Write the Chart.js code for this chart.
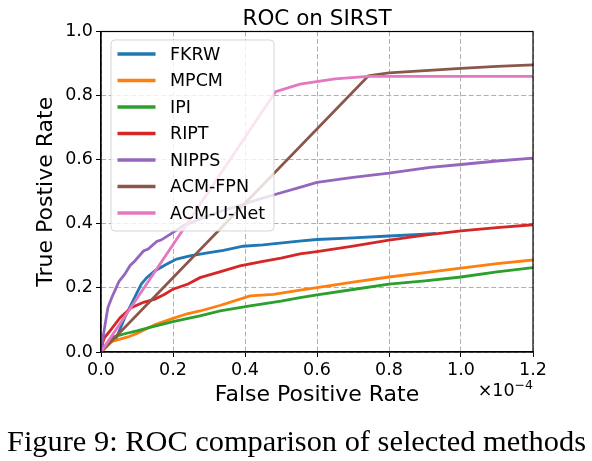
<!DOCTYPE html>
<html>
<head>
<meta charset="utf-8">
<script src="https://cdn.jsdelivr.net/npm/chart.js@4/dist/chart.umd.min.js"></script>
<style>
  body { margin: 0; background: #fff; }
  #wrap { position: relative; width: 592px; height: 461px; }
  #caption {
    position: absolute; left: 7px; top: 426px;
    font-family: "Liberation Serif", "Times New Roman", serif;
    font-size: 30.4px; line-height: 30px; color: #000; white-space: nowrap;
  }
</style>
</head>
<body>
<div id="wrap">
  <canvas id="rocChart" width="592" height="461"></canvas>
  <div id="caption">Figure 9: ROC comparison of selected methods</div>
</div>
<script>
// false positive rate is in units of 1e-4 (see the x10^-4 offset label)
var chartTitle = 'ROC on SIRST';
var methods = ['FKRW', 'MPCM', 'IPI', 'RIPT', 'NIPPS', 'ACM-FPN', 'ACM-U-Net'];
var colors = ['#1f77b4', '#ff7f0e', '#2ca02c', '#d62728', '#9467bd', '#8c564b', '#e377c2'];

var fkrwFpr = [0, 0.019, 0.043, 0.066, 0.084, 0.112, 0.127, 0.149, 0.182, 0.21, 0.247, 0.3, 0.34, 0.395, 0.45, 0.497, 0.55, 0.6, 0.7, 0.8, 0.9, 0.93];
var fkrwTpr = [0, 0.024, 0.045, 0.107, 0.149, 0.212, 0.232, 0.253, 0.274, 0.29, 0.3, 0.31, 0.317, 0.33, 0.334, 0.34, 0.346, 0.351, 0.356, 0.362, 0.368, 0.37];

var mpcmFpr = [0, 0.029, 0.053, 0.075, 0.1, 0.118, 0.149, 0.2, 0.242, 0.275, 0.33, 0.386, 0.414, 0.479, 0.553, 0.6, 0.7, 0.8, 0.9, 1.0, 1.1, 1.2];
var mpcmTpr = [0, 0.032, 0.04, 0.047, 0.058, 0.068, 0.085, 0.105, 0.12, 0.128, 0.145, 0.165, 0.175, 0.18, 0.193, 0.201, 0.218, 0.234, 0.248, 0.262, 0.276, 0.287];

var ipiFpr = [0, 0.025, 0.038, 0.066, 0.1, 0.136, 0.2, 0.242, 0.275, 0.331, 0.414, 0.5, 0.553, 0.6, 0.7, 0.8, 0.9, 1.0, 1.1, 1.2];
var ipiTpr = [0, 0.04, 0.048, 0.057, 0.066, 0.077, 0.095, 0.105, 0.113, 0.128, 0.144, 0.159, 0.17, 0.178, 0.195, 0.212, 0.222, 0.234, 0.25, 0.263];

var riptFpr = [0, 0.006, 0.01, 0.025, 0.053, 0.084, 0.118, 0.15, 0.177, 0.2, 0.242, 0.275, 0.33, 0.386, 0.45, 0.5, 0.553, 0.6, 0.7, 0.8, 0.9, 1.0, 1.1, 1.2];
var riptTpr = [0, 0.034, 0.045, 0.066, 0.107, 0.138, 0.155, 0.165, 0.18, 0.196, 0.212, 0.232, 0.25, 0.269, 0.283, 0.293, 0.306, 0.313, 0.33, 0.349, 0.365, 0.378, 0.388, 0.397];

var nippsFpr = [0, 0.005, 0.01, 0.019, 0.03, 0.038, 0.05, 0.066, 0.081, 0.094, 0.118, 0.131, 0.155, 0.168, 0.196, 0.23, 0.275, 0.335, 0.395, 0.44, 0.488, 0.55, 0.6, 0.645, 0.7, 0.8, 0.914, 1.0, 1.1, 1.2];
var nippsTpr = [0, 0.04, 0.076, 0.138, 0.17, 0.19, 0.22, 0.243, 0.27, 0.284, 0.315, 0.321, 0.345, 0.35, 0.37, 0.395, 0.415, 0.44, 0.461, 0.477, 0.493, 0.513, 0.529, 0.536, 0.545, 0.558, 0.576, 0.585, 0.596, 0.605];

var acmFpnFpr = [0, 0.743, 0.8, 0.9, 1.0, 1.1, 1.2];
var acmFpnTpr = [0, 0.862, 0.871, 0.878, 0.885, 0.891, 0.896];

var acmUnetFpr = [0, 0.485, 0.553, 0.65, 0.743, 1.2];
var acmUnetTpr = [0, 0.812, 0.836, 0.852, 0.86, 0.86];

var xTickLabels = ['0.0', '0.2', '0.4', '0.6', '0.8', '1.0', '1.2'];
var yTickLabels = ['0.0', '0.2', '0.4', '0.6', '0.8', '1.0'];

var seriesFpr = [fkrwFpr, mpcmFpr, ipiFpr, riptFpr, nippsFpr, acmFpnFpr, acmUnetFpr];
var seriesTpr = [fkrwTpr, mpcmTpr, ipiTpr, riptTpr, nippsTpr, acmFpnTpr, acmUnetTpr];

var FONT = "'DejaVu Sans', sans-serif";

function buildDatasets() {
    var datasets = [];
    methods.forEach(function (name, i) {
        var pts = seriesFpr[i].map(function (x, j) {
            return { x: x, y: seriesTpr[i][j] };
        });
        datasets.push({
            label: name,
            data: pts,
            borderColor: colors[i],
            backgroundColor: colors[i],
            borderWidth: 2.8,
            pointRadius: 0,
            tension: 0,
            fill: false,
            order: methods.length - i // later series on top, like matplotlib
        });
    });
    return datasets;
}

// box around the plot, title over the axes, offset text "x10^-4"
var framePlugin = {
    id: 'frame',
    afterDatasetsDraw: function (chart) {
        var a = chart.chartArea, ctx = chart.ctx;
        ctx.save();
        ctx.strokeStyle = '#000';
        ctx.lineWidth = 1.2;
        ctx.strokeRect(a.left, a.top, a.right - a.left, a.bottom - a.top);

        ctx.fillStyle = '#000';
        ctx.textBaseline = 'alphabetic';
        ctx.textAlign = 'center';
        ctx.font = '21.5px ' + FONT;
        ctx.fillText(chartTitle, (a.left + a.right) / 2, a.top - 6.5);

        ctx.textAlign = 'left';
        ctx.font = '12.5px ' + FONT;
        var supW = ctx.measureText('\u22124').width;
        ctx.font = '17.5px ' + FONT;
        var baseW = ctx.measureText('\u00d710').width;
        var x0 = a.right - supW - baseW;
        ctx.fillText('\u00d710', x0, a.bottom + 44);
        ctx.font = '12.5px ' + FONT;
        ctx.fillText('\u22124', x0 + baseW, a.bottom + 37);
        ctx.restore();
    }
};

// legend drawn inside the axes, semi transparent like matplotlib
var legendPlugin = {
    id: 'innerLegend',
    afterDraw: function (chart) {
        var ctx = chart.ctx, a = chart.chartArea;
        var bx = a.left + 10, by = a.top + 8.5, bw = 163, bh = 191;
        ctx.save();
        ctx.beginPath();
        ctx.roundRect(bx, by, bw, bh, 4);
        ctx.fillStyle = 'rgba(255,255,255,0.8)';
        ctx.fill();
        ctx.strokeStyle = 'rgba(204,204,204,0.8)';
        ctx.lineWidth = 1;
        ctx.stroke();

        ctx.font = '17.5px ' + FONT;
        ctx.textBaseline = 'middle';
        ctx.textAlign = 'left';
        chart.data.datasets.forEach(function (ds, i) {
            var cy = by + 14 + i * 26.5;
            ctx.beginPath();
            ctx.strokeStyle = ds.borderColor;
            ctx.lineWidth = 3.5;
            ctx.moveTo(bx + 6.5, cy);
            ctx.lineTo(bx + 44.5, cy);
            ctx.stroke();
            ctx.fillStyle = '#000';
            ctx.fillText(ds.label, bx + 59, cy + 1);
        });
        ctx.restore();
    }
};

function generateChart() {
    var ctx = document.getElementById('rocChart').getContext('2d');
    new Chart(ctx, {
        type: 'line',
        data: { datasets: buildDatasets() },
        options: {
            responsive: false,
            animation: false,
            layout: { padding: { left: 0, right: 59, top: 31.5, bottom: 0 } },
            plugins: {
                legend: { display: false },
                tooltip: { enabled: false },
                title: { display: false }
            },
            scales: {
                x: {
                    type: 'linear',
                    min: 0,
                    max: 1.2,
                    afterFit: function (s) { s.height = 109; },
                    grid: { color: '#b0b0b0', lineWidth: 1, tickLength: 5, tickColor: '#000', tickWidth: 1 },
                    border: { color: '#000', width: 1.2, dash: [5, 2.5] },
                    ticks: {
                        stepSize: 0.2,
                        padding: 3,
                        color: '#000',
                        maxRotation: 0,
                        font: { family: FONT, size: 17.5 },
                        callback: function (v, i) { return xTickLabels[i]; }
                    },
                    title: {
                        display: true,
                        text: 'False Positive Rate',
                        color: '#000',
                        font: { family: FONT, size: 22 },
                        padding: { top: 0, bottom: 53 }
                    }
                },
                y: {
                    min: 0,
                    max: 1,
                    afterFit: function (s) { s.width = 101; },
                    grid: { color: '#b0b0b0', lineWidth: 1, tickLength: 5, tickColor: '#000', tickWidth: 1 },
                    border: { color: '#000', width: 1.2, dash: [5, 2.5] },
                    ticks: {
                        stepSize: 0.2,
                        padding: 3,
                        color: '#000',
                        font: { family: FONT, size: 17.5 },
                        callback: function (v, i) { return yTickLabels[i]; }
                    },
                    title: {
                        display: true,
                        text: 'True Postive Rate',
                        color: '#000',
                        font: { family: FONT, size: 22 },
                        padding: { top: 33, bottom: 0 }
                    }
                }
            }
        },
        plugins: [framePlugin, legendPlugin]
    });
}

document.addEventListener('DOMContentLoaded', generateChart);
</script>
</body>
</html>
